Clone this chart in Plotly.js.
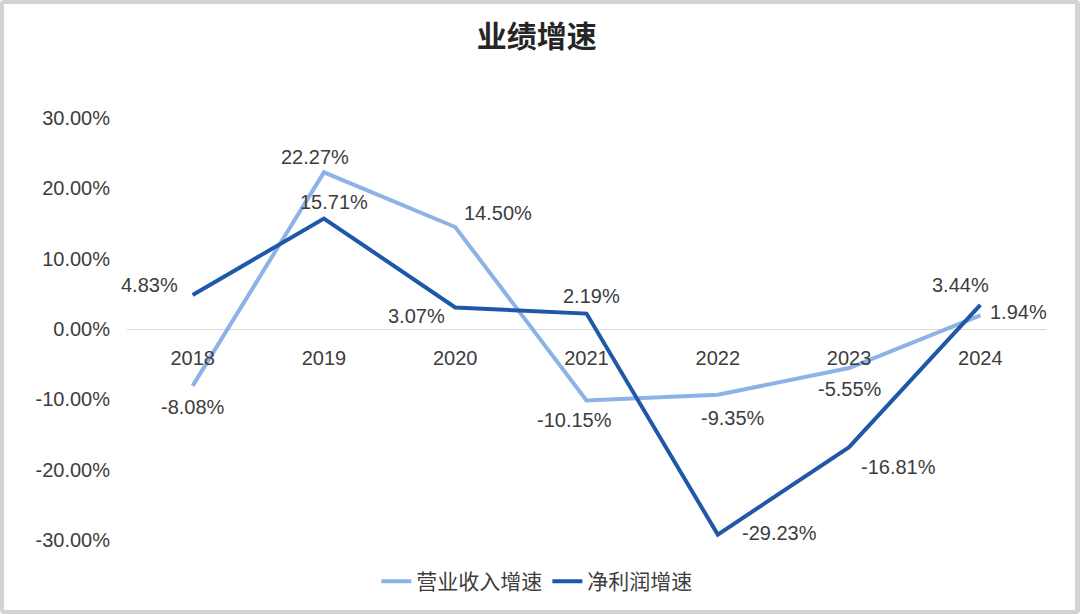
<!DOCTYPE html>
<html>
<head>
<meta charset="utf-8">
<script src="https://cdn.plot.ly/plotly-3.0.1.min.js"></script>
<style>
  html, body { margin: 0; padding: 0; background: #fff; }
  #wrap { position: relative; width: 1080px; height: 614px; }
  #chart { width: 1080px; height: 614px; }
  #frame { position: absolute; left: 0; top: 0; width: 1080px; height: 614px; box-sizing: border-box;
           border: 4px solid #d3d3d3; border-right-width: 5px; border-radius: 4px; pointer-events: none; }
</style>
</head>
<body>
<div id="wrap">
  <div id="chart"></div>
  <div id="frame"></div>
</div>
<script>
// years on the x axis
const years = ['2018', '2019', '2020', '2021', '2022', '2023', '2024']

// growth rates, %
const revenueGrowth = [-8.08, 22.27, 14.50, -10.15, -9.35, -5.55, 1.94]
const profitGrowth  = [4.83, 15.71, 3.07, 2.19, -29.23, -16.81, 3.44]

const seriesNames = ['营业收入增速', '净利润增速']

// y tick values
const yTicks = [-30, -20, -10, 0, 10, 20, 30]

// label offsets from each point, px [dx, dy] (dy down)
const revenueLabelShift = [[0, 21], [-9, -15], [43, -14], [-12, 20], [15, 23], [1, 21], [38, -3]]
const profitLabelShift  = [[-43, -10], [10, -17], [-39, 9], [5, -18], [62, -2], [49, 20], [-20, -20]]

const fontFamily = '"Liberation Sans", Arial, "Noto Sans CJK SC", sans-serif'
const textColor = '#3d3d3d'

let fmt = v => v.toFixed(2) + '%'

let revenue = {
    x: years,
    y: revenueGrowth,
    name: seriesNames[0],
    type: 'scatter',
    mode: 'lines',
    line: {color: '#8db3e6', width: 4},
}

let profit = {
    x: years,
    y: profitGrowth,
    name: seriesNames[1],
    type: 'scatter',
    mode: 'lines',
    line: {color: '#1f58a8', width: 4},
}

// value labels next to the points
let labels = []
function addLabels(values, shifts) {
    for (let i = 0; i < values.length; i++) {
        labels.push({
            x: i, y: values[i],
            xref: 'x', yref: 'y',
            text: fmt(values[i]),
            showarrow: false,
            xanchor: 'center', yanchor: 'middle',
            xshift: shifts[i][0], yshift: -shifts[i][1],
            font: {size: 20, color: textColor, family: fontFamily},
        })
    }
}
addLabels(revenueGrowth, revenueLabelShift)
addLabels(profitGrowth, profitLabelShift)

let layout = {
    width: 1080,
    height: 614,
    margin: {l: 127, r: 34, t: 118, b: 68},
    paper_bgcolor: '#ffffff',
    plot_bgcolor: '#ffffff',
    font: {family: fontFamily, color: textColor, size: 20},
    title: {
        text: '<b>业绩增速</b>',
        x: 0.497, xanchor: 'center',
        y: 0.94, yanchor: 'middle',
        font: {size: 30, color: '#262626', family: '"Noto Sans CJK SC", sans-serif'},
    },
    xaxis: {
        type: 'category',
        categoryarray: years,
        range: [-0.5, 6.5],
        autorange: false,
        anchor: 'free',
        position: 0.5,
        automargin: false,
        showgrid: false,
        showline: false,
        zeroline: false,
        ticks: '',
        tickfont: {size: 20, color: textColor},
        ticklabelstandoff: 15,
        fixedrange: true,
    },
    yaxis: {
        range: [-30, 30],
        autorange: false,
        automargin: false,
        tickvals: yTicks,
        ticktext: yTicks.map(fmt),
        showgrid: false,
        zeroline: true,
        zerolinecolor: '#d9d9d9',
        zerolinewidth: 1,
        showline: false,
        ticks: '',
        ticklabelstandoff: 16,
        tickfont: {size: 20, color: textColor},
        fixedrange: true,
    },
    annotations: labels,
    showlegend: true,
    legend: {
        orientation: 'h',
        x: 0.446, xanchor: 'center',
        y: -0.05, yanchor: 'top',
        font: {size: 21, color: textColor, family: '"Noto Sans CJK SC", sans-serif'},
        tracegroupgap: 0,
    },
}

Plotly.newPlot('chart', [revenue, profit], layout, {displayModeBar: false})
</script>
</body>
</html>
